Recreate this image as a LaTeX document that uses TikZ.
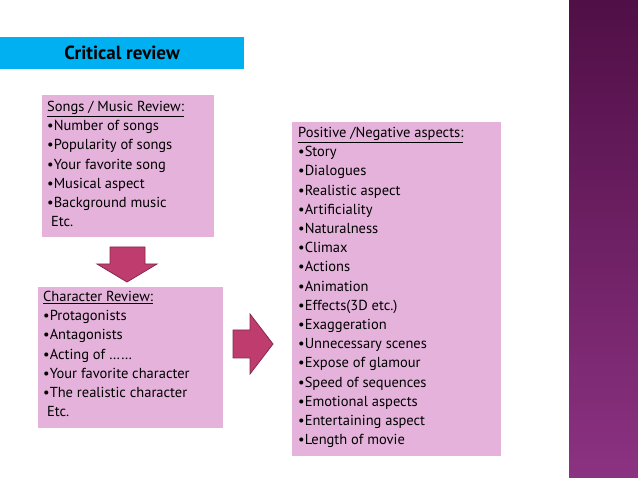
\documentclass[tikz,border=0pt]{standalone}
\usepackage{fontspec}
\setmainfont{PT Sans}
\begin{document}
\begin{tikzpicture}[x=1pt,y=-1pt,
 box/.style={fill=boxpink,anchor=north west,align=left,font=\fontsize{14.5}{19.2}\selectfont,inner sep=3pt,text depth=0pt},
 arr/.style={fill=arrred,draw=arrred!70!black,line width=0.8pt}]
\definecolor{boxpink}{RGB}{228,178,218}
\definecolor{arrred}{RGB}{190,60,110}
\definecolor{cyanbar}{RGB}{0,176,240}
\useasboundingbox (0,0) rectangle (638,478);
\fill[white] (0,0) rectangle (638,478);
\shade[top color={rgb,255:red,80;green,15;blue,70},bottom color={rgb,255:red,140;green,50;blue,130}] (569,0) rectangle (638,478);
\fill[cyanbar] (0,37) rectangle (244,69);
\node[font=\fontsize{19}{22}\selectfont\bfseries] (title) at (122,53) {Critical review};
\fill[boxpink] (42,95) rectangle (214,237);
\node[box,fill=none] (b1) at (44,98) {\underline{Songs / Music Review:}\\•Number of songs\\•Popularity of songs\\•Your favorite song\\•Musical aspect\\•Background music\\\ Etc.};
\fill[boxpink] (38,287) rectangle (223,428);
\node[box,fill=none] (b2) at (40,288) {\underline{Character Review:}\\•Protagonists\\•Antagonists\\•Acting of ……\\•Your favorite character\\•The realistic character\\\ Etc.};
\fill[boxpink] (292,122) rectangle (501,456);
\node[box,fill=none] (b3) at (295,124) {\underline{Positive /Negative aspects:}\\•Story\\•Dialogues\\•Realistic aspect\\•Artificiality\\•Naturalness\\•Climax\\•Actions\\•Animation\\•Effects(3D etc.)\\•Exaggeration\\•Unnecessary scenes\\•Expose of glamour\\•Speed of sequences\\•Emotional aspects\\•Entertaining aspect\\•Length of movie};
\draw[arr] (110,247) -- (145,247) -- (145,264) -- (157,264) -- (127,282) -- (97,264) -- (110,264) -- cycle;
\draw[arr] (233,330) -- (250,330) -- (250,314) -- (273,344) -- (250,374) -- (250,358) -- (233,358) -- cycle;
\end{tikzpicture}
\end{document}
